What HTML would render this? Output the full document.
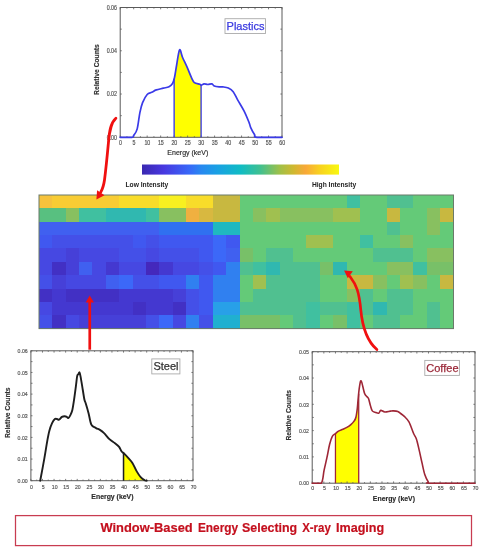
<!DOCTYPE html><html><head><meta charset="utf-8"><title>Window-Based Energy Selecting X-ray Imaging</title><style>html,body{margin:0;padding:0;background:#fff;overflow:hidden}svg{display:block}</style></head><body><svg width="481" height="550" viewBox="0 0 481 550">
<defs><linearGradient id="cb" x1="0" x2="1" y1="0" y2="0"><stop offset="0" stop-color="#3a28b0"/><stop offset="0.11" stop-color="#4838e0"/><stop offset="0.24" stop-color="#3868f8"/><stop offset="0.3" stop-color="#2888f0"/><stop offset="0.38" stop-color="#1aa0e4"/><stop offset="0.5" stop-color="#10bcc4"/><stop offset="0.6" stop-color="#40c090"/><stop offset="0.7" stop-color="#a0c048"/><stop offset="0.77" stop-color="#d0b830"/><stop offset="0.83" stop-color="#f8a838"/><stop offset="0.9" stop-color="#f8d020"/><stop offset="1" stop-color="#f8f810"/></linearGradient></defs>
<rect width="481" height="550" fill="#fff"/>
<polygon points="174.13,137.3 174.13,78.8 174.4,78.02 176.56,65.48 179.53,49.9 182.49,57.26 187.08,67.21 191.66,78.02 194.36,82.57 199.75,84.3 201.1,85.02 201.1,137.3" fill="#ffff00"/>
<rect x="120.2" y="7.5" width="161.8" height="129.8" fill="none" stroke="#5a5a5a" stroke-width="1"/>
<path d="M120.2 137.3v-1.8M120.2 7.5v1.8M126.94 137.3v-1.1M126.94 7.5v1.1M133.68 137.3v-1.8M133.68 7.5v1.8M140.43 137.3v-1.1M140.43 7.5v1.1M147.17 137.3v-1.8M147.17 7.5v1.8M153.91 137.3v-1.1M153.91 7.5v1.1M160.65 137.3v-1.8M160.65 7.5v1.8M167.39 137.3v-1.1M167.39 7.5v1.1M174.13 137.3v-1.8M174.13 7.5v1.8M180.88 137.3v-1.1M180.88 7.5v1.1M187.62 137.3v-1.8M187.62 7.5v1.8M194.36 137.3v-1.1M194.36 7.5v1.1M201.1 137.3v-1.8M201.1 7.5v1.8M207.84 137.3v-1.1M207.84 7.5v1.1M214.58 137.3v-1.8M214.58 7.5v1.8M221.32 137.3v-1.1M221.32 7.5v1.1M228.07 137.3v-1.8M228.07 7.5v1.8M234.81 137.3v-1.1M234.81 7.5v1.1M241.55 137.3v-1.8M241.55 7.5v1.8M248.29 137.3v-1.1M248.29 7.5v1.1M255.03 137.3v-1.8M255.03 7.5v1.8M261.77 137.3v-1.1M261.77 7.5v1.1M268.52 137.3v-1.8M268.52 7.5v1.8M275.26 137.3v-1.1M275.26 7.5v1.1M282 137.3v-1.8M282 7.5v1.8M120.2 137.3h1.6M282 137.3h-1.6M120.2 115.67h1.6M282 115.67h-1.6M120.2 94.03h1.6M282 94.03h-1.6M120.2 72.4h1.6M282 72.4h-1.6M120.2 50.77h1.6M282 50.77h-1.6M120.2 29.13h1.6M282 29.13h-1.6M120.2 7.5h1.6M282 7.5h-1.6" stroke="#5a5a5a" stroke-width="0.8" fill="none"/>
<g font-family="Liberation Sans, sans-serif" font-size="6.4" fill="#555" stroke="#555" stroke-width="0.18">
<text x="120.4" y="145.3" text-anchor="middle" textLength="2.95" lengthAdjust="spacingAndGlyphs">0</text>
<text x="133.88" y="145.3" text-anchor="middle" textLength="2.95" lengthAdjust="spacingAndGlyphs">5</text>
<text x="147.37" y="145.3" text-anchor="middle" textLength="5.91" lengthAdjust="spacingAndGlyphs">10</text>
<text x="160.85" y="145.3" text-anchor="middle" textLength="5.91" lengthAdjust="spacingAndGlyphs">15</text>
<text x="174.33" y="145.3" text-anchor="middle" textLength="5.91" lengthAdjust="spacingAndGlyphs">20</text>
<text x="187.82" y="145.3" text-anchor="middle" textLength="5.91" lengthAdjust="spacingAndGlyphs">25</text>
<text x="201.3" y="145.3" text-anchor="middle" textLength="5.91" lengthAdjust="spacingAndGlyphs">30</text>
<text x="214.78" y="145.3" text-anchor="middle" textLength="5.91" lengthAdjust="spacingAndGlyphs">35</text>
<text x="228.27" y="145.3" text-anchor="middle" textLength="5.91" lengthAdjust="spacingAndGlyphs">40</text>
<text x="241.75" y="145.3" text-anchor="middle" textLength="5.91" lengthAdjust="spacingAndGlyphs">45</text>
<text x="255.23" y="145.3" text-anchor="middle" textLength="5.91" lengthAdjust="spacingAndGlyphs">50</text>
<text x="268.72" y="145.3" text-anchor="middle" textLength="5.91" lengthAdjust="spacingAndGlyphs">55</text>
<text x="282.2" y="145.3" text-anchor="middle" textLength="5.91" lengthAdjust="spacingAndGlyphs">60</text>
<text x="117" y="139.6" text-anchor="end" textLength="10.34" lengthAdjust="spacingAndGlyphs">0.00</text>
<text x="117" y="96.33" text-anchor="end" textLength="10.34" lengthAdjust="spacingAndGlyphs">0.02</text>
<text x="117" y="53.07" text-anchor="end" textLength="10.34" lengthAdjust="spacingAndGlyphs">0.04</text>
<text x="117" y="9.8" text-anchor="end" textLength="10.34" lengthAdjust="spacingAndGlyphs">0.06</text>
</g>
<path d="M120.2 137.3C122.13 137.3 129.55 137.3 131.8 137.3C134.04 137.01 132.78 136.98 133.68 135.57C134.58 134.16 136.16 132.68 137.19 128.86C138.22 125.04 138.99 117 139.89 112.64C140.78 108.28 141.37 105.72 142.58 102.69C143.8 99.66 145.64 96.2 147.17 94.47C148.69 92.74 150.22 93.06 151.75 92.3C153.28 91.55 154.4 90.61 156.34 89.92C158.27 89.24 161.23 88.73 163.35 88.19C165.46 87.65 167.48 87.47 169.01 86.68C170.54 85.88 171.62 84.88 172.52 83.43C173.41 81.99 173.73 81.02 174.4 78.02C175.08 75.03 175.71 70.16 176.56 65.48C177.41 60.79 178.54 51.27 179.53 49.9C180.52 48.53 181.23 54.37 182.49 57.26C183.75 60.14 185.55 63.75 187.08 67.21C188.61 70.67 190.45 75.46 191.66 78.02C192.88 80.58 193.01 81.52 194.36 82.57C195.71 83.61 198.58 83.87 199.75 84.3C200.92 84.73 200.65 85.24 201.37 85.16C202.09 85.09 202.99 83.97 204.07 83.87C205.15 83.76 206.54 84.51 207.84 84.51C209.15 84.51 210.81 83.61 211.89 83.87C212.97 84.12 213.1 85.52 214.31 86.03C215.53 86.53 217.73 86.75 219.17 86.89C220.61 87.04 221.41 86.71 222.94 86.89C224.47 87.07 226.63 87.18 228.34 87.98C230.04 88.77 231.62 89.63 233.19 91.65C234.76 93.67 235.93 96.81 237.77 100.09C239.62 103.37 242.36 107.59 244.25 111.34C246.13 115.09 248.02 119.89 249.1 122.59C250.18 125.29 249.82 125.58 250.72 127.57C251.62 129.55 253.42 132.87 254.49 134.49C255.57 136.11 252.61 136.83 257.19 137.3C261.78 137.3 277.87 137.3 282 137.3" fill="none" stroke="#3a3ae8" stroke-width="1.7" stroke-linejoin="round" stroke-linecap="round"/>
<line x1="174.13" y1="137.3" x2="174.13" y2="78.8" stroke="#3a3ae8" stroke-width="1.36"/>
<line x1="201.1" y1="137.3" x2="201.1" y2="85.02" stroke="#3a3ae8" stroke-width="1.36"/>
<text x="99.2" y="69.6" text-anchor="middle" font-family="Liberation Sans, sans-serif" font-size="6.7" font-weight="bold" fill="#333" stroke="#333" stroke-width="0.15" transform="rotate(-90 99.2 69.6)">Relative Counts</text>
<text x="187.8" y="155" text-anchor="middle" font-family="Liberation Sans, sans-serif" font-size="7.0"  fill="#2a2a2a" stroke="#2a2a2a" stroke-width="0.15">Energy (keV)</text>
<rect x="225" y="18.7" width="40.5" height="14.8" fill="#fff" stroke="#aaa" stroke-width="0.9"/>
<text x="226.6" y="30" font-family="Liberation Sans, sans-serif" font-size="11" fill="#3a3ae0" stroke="#3a3ae0" stroke-width="0.25">Plastics</text>
<polygon points="123.53,480.7 123.53,453.05 124.22,453.64 128.62,458.4 132.56,463.16 136.73,471.39 140.9,477.45 144.83,480.27 146.69,480.7 146.69,480.7 146.69,480.7" fill="#ffff00"/>
<rect x="30.9" y="350.8" width="162.1" height="129.9" fill="none" stroke="#5a5a5a" stroke-width="1"/>
<path d="M30.9 480.7v-1.8M30.9 350.8v1.8M36.69 480.7v-1.1M36.69 350.8v1.1M42.48 480.7v-1.8M42.48 350.8v1.8M48.27 480.7v-1.1M48.27 350.8v1.1M54.06 480.7v-1.8M54.06 350.8v1.8M59.85 480.7v-1.1M59.85 350.8v1.1M65.64 480.7v-1.8M65.64 350.8v1.8M71.42 480.7v-1.1M71.42 350.8v1.1M77.21 480.7v-1.8M77.21 350.8v1.8M83 480.7v-1.1M83 350.8v1.1M88.79 480.7v-1.8M88.79 350.8v1.8M94.58 480.7v-1.1M94.58 350.8v1.1M100.37 480.7v-1.8M100.37 350.8v1.8M106.16 480.7v-1.1M106.16 350.8v1.1M111.95 480.7v-1.8M111.95 350.8v1.8M117.74 480.7v-1.1M117.74 350.8v1.1M123.53 480.7v-1.8M123.53 350.8v1.8M129.32 480.7v-1.1M129.32 350.8v1.1M135.11 480.7v-1.8M135.11 350.8v1.8M140.9 480.7v-1.1M140.9 350.8v1.1M146.69 480.7v-1.8M146.69 350.8v1.8M152.47 480.7v-1.1M152.47 350.8v1.1M158.26 480.7v-1.8M158.26 350.8v1.8M164.05 480.7v-1.1M164.05 350.8v1.1M169.84 480.7v-1.8M169.84 350.8v1.8M175.63 480.7v-1.1M175.63 350.8v1.1M181.42 480.7v-1.8M181.42 350.8v1.8M187.21 480.7v-1.1M187.21 350.8v1.1M193 480.7v-1.8M193 350.8v1.8M30.9 480.7h1.6M193 480.7h-1.6M30.9 469.88h1.6M193 469.88h-1.6M30.9 459.05h1.6M193 459.05h-1.6M30.9 448.23h1.6M193 448.23h-1.6M30.9 437.4h1.6M193 437.4h-1.6M30.9 426.57h1.6M193 426.57h-1.6M30.9 415.75h1.6M193 415.75h-1.6M30.9 404.92h1.6M193 404.92h-1.6M30.9 394.1h1.6M193 394.1h-1.6M30.9 383.27h1.6M193 383.27h-1.6M30.9 372.45h1.6M193 372.45h-1.6M30.9 361.62h1.6M193 361.62h-1.6M30.9 350.8h1.6M193 350.8h-1.6" stroke="#5a5a5a" stroke-width="0.8" fill="none"/>
<g font-family="Liberation Sans, sans-serif" font-size="6.1" fill="#555" stroke="#555" stroke-width="0.18">
<text x="31.5" y="488.7" text-anchor="middle" textLength="2.88" lengthAdjust="spacingAndGlyphs">0</text>
<text x="43.08" y="488.7" text-anchor="middle" textLength="2.88" lengthAdjust="spacingAndGlyphs">5</text>
<text x="54.66" y="488.7" text-anchor="middle" textLength="5.77" lengthAdjust="spacingAndGlyphs">10</text>
<text x="66.24" y="488.7" text-anchor="middle" textLength="5.77" lengthAdjust="spacingAndGlyphs">15</text>
<text x="77.81" y="488.7" text-anchor="middle" textLength="5.77" lengthAdjust="spacingAndGlyphs">20</text>
<text x="89.39" y="488.7" text-anchor="middle" textLength="5.77" lengthAdjust="spacingAndGlyphs">25</text>
<text x="100.97" y="488.7" text-anchor="middle" textLength="5.77" lengthAdjust="spacingAndGlyphs">30</text>
<text x="112.55" y="488.7" text-anchor="middle" textLength="5.77" lengthAdjust="spacingAndGlyphs">35</text>
<text x="124.13" y="488.7" text-anchor="middle" textLength="5.77" lengthAdjust="spacingAndGlyphs">40</text>
<text x="135.71" y="488.7" text-anchor="middle" textLength="5.77" lengthAdjust="spacingAndGlyphs">45</text>
<text x="147.29" y="488.7" text-anchor="middle" textLength="5.77" lengthAdjust="spacingAndGlyphs">50</text>
<text x="158.86" y="488.7" text-anchor="middle" textLength="5.77" lengthAdjust="spacingAndGlyphs">55</text>
<text x="170.44" y="488.7" text-anchor="middle" textLength="5.77" lengthAdjust="spacingAndGlyphs">60</text>
<text x="182.02" y="488.7" text-anchor="middle" textLength="5.77" lengthAdjust="spacingAndGlyphs">65</text>
<text x="193.6" y="488.7" text-anchor="middle" textLength="5.77" lengthAdjust="spacingAndGlyphs">70</text>
<text x="27.7" y="482.9" text-anchor="end" textLength="10.09" lengthAdjust="spacingAndGlyphs">0.00</text>
<text x="27.7" y="461.25" text-anchor="end" textLength="10.09" lengthAdjust="spacingAndGlyphs">0.01</text>
<text x="27.7" y="439.6" text-anchor="end" textLength="10.09" lengthAdjust="spacingAndGlyphs">0.02</text>
<text x="27.7" y="417.95" text-anchor="end" textLength="10.09" lengthAdjust="spacingAndGlyphs">0.03</text>
<text x="27.7" y="396.3" text-anchor="end" textLength="10.09" lengthAdjust="spacingAndGlyphs">0.04</text>
<text x="27.7" y="374.65" text-anchor="end" textLength="10.09" lengthAdjust="spacingAndGlyphs">0.05</text>
<text x="27.7" y="353" text-anchor="end" textLength="10.09" lengthAdjust="spacingAndGlyphs">0.06</text>
</g>
<path d="M40.21 480.7C40.91 476.95 43.24 464.75 44.4 458.18C45.57 451.62 46.38 445.84 47.2 441.3C48.02 436.75 48.5 433.94 49.31 430.9C50.12 427.87 51.16 425.1 52.09 423.11C53.02 421.13 54.07 419.68 54.89 419C55.71 418.31 56.3 418.89 57 419C57.7 419.11 58.29 420.01 59.11 419.65C59.92 419.29 60.97 417.41 61.91 416.83C62.84 416.26 63.9 416.18 64.71 416.18C65.52 416.18 66.21 416.51 66.79 416.83C67.37 417.16 67.6 418.38 68.18 418.13C68.76 417.88 69.57 416.69 70.27 415.32C70.96 413.95 71.73 412.39 72.35 409.9C72.97 407.41 73.37 404.38 73.97 400.38C74.57 396.37 75.4 389.95 75.94 385.87C76.48 381.8 76.81 377.86 77.21 375.91C77.62 373.97 77.99 374.76 78.37 374.18C78.76 373.6 79.12 371.84 79.53 372.45C79.94 373.06 80.26 374.98 80.8 377.86C81.34 380.75 82.17 386.16 82.77 389.77C83.37 393.38 83.89 397.24 84.39 399.51C84.89 401.79 85.09 401.14 85.78 403.41C86.48 405.68 87.63 409.62 88.56 413.15C89.49 416.69 90.11 422.14 91.34 424.63C92.58 427.12 94.54 427.22 95.97 428.09C97.4 428.96 98.56 428.99 99.91 429.82C101.26 430.65 102.49 431.52 104.08 433.07C105.66 434.62 107.59 437.44 109.4 439.13C111.22 440.83 113.38 441.98 114.96 443.25C116.54 444.51 117.78 445.34 118.9 446.71C120.02 448.08 120.79 450.32 121.68 451.47C122.56 452.63 123.07 452.48 124.22 453.64C125.38 454.79 127.23 456.81 128.62 458.4C130.01 459.99 131.21 461 132.56 463.16C133.91 465.33 135.34 469.01 136.73 471.39C138.12 473.77 139.55 475.97 140.9 477.45C142.25 478.93 143.87 479.73 144.83 480.27C145.8 480.7 146.38 480.63 146.69 480.7" fill="none" stroke="#1e1e1e" stroke-width="1.9" stroke-linejoin="round" stroke-linecap="round"/>
<line x1="123.53" y1="480.7" x2="123.53" y2="453.05" stroke="#1e1e1e" stroke-width="1.52"/>
<line x1="146.69" y1="480.7" x2="146.69" y2="480.7" stroke="#1e1e1e" stroke-width="1.52"/>
<text x="10.3" y="412.8" text-anchor="middle" font-family="Liberation Sans, sans-serif" font-size="6.7" font-weight="bold" fill="#333" stroke="#333" stroke-width="0.15" transform="rotate(-90 10.3 412.8)">Relative Counts</text>
<text x="112.4" y="499.1" text-anchor="middle" font-family="Liberation Sans, sans-serif" font-size="6.9" font-weight="bold" fill="#2a2a2a" stroke="#2a2a2a" stroke-width="0.15">Energy (keV)</text>
<rect x="151.8" y="358.9" width="28.1" height="15" fill="#fff" stroke="#aaa" stroke-width="0.9"/>
<text x="153.4" y="369.8" font-family="Liberation Sans, sans-serif" font-size="11" fill="#333" stroke="#333" stroke-width="0.25">Steel</text>
<polygon points="335.46,483.2 335.46,433.57 338.48,431.13 342.9,429.28 347.32,427.18 350.57,424.81 354.06,421.13 355.92,417.19 357.32,408.25 358.25,397.73 358.71,393.63 358.71,483.2" fill="#ffff00"/>
<rect x="312.2" y="351.7" width="162.8" height="131.5" fill="none" stroke="#5a5a5a" stroke-width="1"/>
<path d="M312.2 483.2v-1.8M312.2 351.7v1.8M318.01 483.2v-1.1M318.01 351.7v1.1M323.83 483.2v-1.8M323.83 351.7v1.8M329.64 483.2v-1.1M329.64 351.7v1.1M335.46 483.2v-1.8M335.46 351.7v1.8M341.27 483.2v-1.1M341.27 351.7v1.1M347.09 483.2v-1.8M347.09 351.7v1.8M352.9 483.2v-1.1M352.9 351.7v1.1M358.71 483.2v-1.8M358.71 351.7v1.8M364.53 483.2v-1.1M364.53 351.7v1.1M370.34 483.2v-1.8M370.34 351.7v1.8M376.16 483.2v-1.1M376.16 351.7v1.1M381.97 483.2v-1.8M381.97 351.7v1.8M387.79 483.2v-1.1M387.79 351.7v1.1M393.6 483.2v-1.8M393.6 351.7v1.8M399.41 483.2v-1.1M399.41 351.7v1.1M405.23 483.2v-1.8M405.23 351.7v1.8M411.04 483.2v-1.1M411.04 351.7v1.1M416.86 483.2v-1.8M416.86 351.7v1.8M422.67 483.2v-1.1M422.67 351.7v1.1M428.49 483.2v-1.8M428.49 351.7v1.8M434.3 483.2v-1.1M434.3 351.7v1.1M440.11 483.2v-1.8M440.11 351.7v1.8M445.93 483.2v-1.1M445.93 351.7v1.1M451.74 483.2v-1.8M451.74 351.7v1.8M457.56 483.2v-1.1M457.56 351.7v1.1M463.37 483.2v-1.8M463.37 351.7v1.8M469.19 483.2v-1.1M469.19 351.7v1.1M475 483.2v-1.8M475 351.7v1.8M312.2 483.2h1.6M475 483.2h-1.6M312.2 470.05h1.6M475 470.05h-1.6M312.2 456.9h1.6M475 456.9h-1.6M312.2 443.75h1.6M475 443.75h-1.6M312.2 430.6h1.6M475 430.6h-1.6M312.2 417.45h1.6M475 417.45h-1.6M312.2 404.3h1.6M475 404.3h-1.6M312.2 391.15h1.6M475 391.15h-1.6M312.2 378h1.6M475 378h-1.6M312.2 364.85h1.6M475 364.85h-1.6M312.2 351.7h1.6M475 351.7h-1.6" stroke="#5a5a5a" stroke-width="0.8" fill="none"/>
<g font-family="Liberation Sans, sans-serif" font-size="6.1" fill="#555" stroke="#555" stroke-width="0.18">
<text x="312.8" y="490.3" text-anchor="middle" textLength="2.88" lengthAdjust="spacingAndGlyphs">0</text>
<text x="324.43" y="490.3" text-anchor="middle" textLength="2.88" lengthAdjust="spacingAndGlyphs">5</text>
<text x="336.06" y="490.3" text-anchor="middle" textLength="5.77" lengthAdjust="spacingAndGlyphs">10</text>
<text x="347.69" y="490.3" text-anchor="middle" textLength="5.77" lengthAdjust="spacingAndGlyphs">15</text>
<text x="359.31" y="490.3" text-anchor="middle" textLength="5.77" lengthAdjust="spacingAndGlyphs">20</text>
<text x="370.94" y="490.3" text-anchor="middle" textLength="5.77" lengthAdjust="spacingAndGlyphs">25</text>
<text x="382.57" y="490.3" text-anchor="middle" textLength="5.77" lengthAdjust="spacingAndGlyphs">30</text>
<text x="394.2" y="490.3" text-anchor="middle" textLength="5.77" lengthAdjust="spacingAndGlyphs">35</text>
<text x="405.83" y="490.3" text-anchor="middle" textLength="5.77" lengthAdjust="spacingAndGlyphs">40</text>
<text x="417.46" y="490.3" text-anchor="middle" textLength="5.77" lengthAdjust="spacingAndGlyphs">45</text>
<text x="429.09" y="490.3" text-anchor="middle" textLength="5.77" lengthAdjust="spacingAndGlyphs">50</text>
<text x="440.71" y="490.3" text-anchor="middle" textLength="5.77" lengthAdjust="spacingAndGlyphs">55</text>
<text x="452.34" y="490.3" text-anchor="middle" textLength="5.77" lengthAdjust="spacingAndGlyphs">60</text>
<text x="463.97" y="490.3" text-anchor="middle" textLength="5.77" lengthAdjust="spacingAndGlyphs">65</text>
<text x="475.6" y="490.3" text-anchor="middle" textLength="5.77" lengthAdjust="spacingAndGlyphs">70</text>
<text x="309" y="485.4" text-anchor="end" textLength="10.09" lengthAdjust="spacingAndGlyphs">0.00</text>
<text x="309" y="459.1" text-anchor="end" textLength="10.09" lengthAdjust="spacingAndGlyphs">0.01</text>
<text x="309" y="432.8" text-anchor="end" textLength="10.09" lengthAdjust="spacingAndGlyphs">0.02</text>
<text x="309" y="406.5" text-anchor="end" textLength="10.09" lengthAdjust="spacingAndGlyphs">0.03</text>
<text x="309" y="380.2" text-anchor="end" textLength="10.09" lengthAdjust="spacingAndGlyphs">0.04</text>
<text x="309" y="353.9" text-anchor="end" textLength="10.09" lengthAdjust="spacingAndGlyphs">0.05</text>
</g>
<path d="M312.2 483.2C313.71 483.2 319.29 483.2 321.27 483.2C323.25 481.05 323.11 474.61 324.06 470.31C325.01 466.02 326.04 461.77 326.97 457.43C327.9 453.09 328.75 447.78 329.64 444.28C330.53 440.77 331.39 438.14 332.32 436.39C333.25 434.63 334.2 434.63 335.22 433.76C336.25 432.88 337.2 431.87 338.48 431.13C339.76 430.38 341.43 429.94 342.9 429.28C344.37 428.63 346.04 427.93 347.32 427.18C348.6 426.44 349.45 425.82 350.57 424.81C351.7 423.81 353.17 422.4 354.06 421.13C354.95 419.86 355.38 419.33 355.92 417.19C356.47 415.04 356.93 411.49 357.32 408.25C357.71 405 357.88 401.32 358.25 397.73C358.61 394.13 359.01 389.48 359.51 386.68C360 383.87 360.37 379.8 361.2 380.89C362.04 381.99 363.57 390.67 364.51 393.25C365.44 395.84 366.13 395.49 366.81 396.41C367.49 397.33 367.98 397.2 368.6 398.78C369.21 400.36 369.89 403.86 370.51 405.88C371.12 407.89 371.55 409.82 372.3 410.88C373.04 411.93 373.92 411.8 374.99 412.19C376.06 412.58 377.75 413.55 378.72 413.24C379.68 412.94 379.8 410.57 380.81 410.35C381.82 410.13 383.17 411.8 384.76 411.93C386.35 412.06 388.95 411.31 390.34 411.14C391.74 410.96 391.89 410.83 393.13 410.88C394.38 410.92 396.55 410.96 397.79 411.4C399.03 411.84 399.49 412.67 400.58 413.5C401.66 414.34 402.9 415 404.3 416.4C405.69 417.8 407.4 419.07 408.95 421.92C410.5 424.77 412.36 430.64 413.6 433.49C414.84 436.34 415.46 436.25 416.39 439.02C417.32 441.78 418.25 446.12 419.18 450.06C420.11 454.01 421.04 458.61 421.97 462.69C422.9 466.76 423.72 471.32 424.76 474.52C425.81 477.72 427.32 480.44 428.25 481.88C429.18 483.2 422.56 482.98 430.35 483.2C438.14 483.2 467.56 483.2 475 483.2" fill="none" stroke="#9e2636" stroke-width="1.6" stroke-linejoin="round" stroke-linecap="round"/>
<line x1="335.46" y1="483.2" x2="335.46" y2="433.57" stroke="#9e2636" stroke-width="1.2800000000000002"/>
<line x1="358.71" y1="483.2" x2="358.71" y2="393.63" stroke="#9e2636" stroke-width="1.2800000000000002"/>
<text x="290.6" y="415.3" text-anchor="middle" font-family="Liberation Sans, sans-serif" font-size="6.7" font-weight="bold" fill="#333" stroke="#333" stroke-width="0.15" transform="rotate(-90 290.6 415.3)">Relative Counts</text>
<text x="393.9" y="501.4" text-anchor="middle" font-family="Liberation Sans, sans-serif" font-size="6.9" font-weight="bold" fill="#2a2a2a" stroke="#2a2a2a" stroke-width="0.15">Energy (keV)</text>
<rect x="424.8" y="360.4" width="34.6" height="15" fill="#fff" stroke="#aaa" stroke-width="0.9"/>
<text x="426.3" y="371.7" font-family="Liberation Sans, sans-serif" font-size="11" fill="#9a2838" stroke="#9a2838" stroke-width="0.25">Coffee</text>
<rect x="142" y="164.5" width="197" height="10.1" fill="url(#cb)"/>
<text x="125.5" y="187.2" font-family="Liberation Sans, sans-serif" font-size="6.7" font-weight="bold" fill="#222">Low Intensity</text>
<text x="311.9" y="187.3" font-family="Liberation Sans, sans-serif" font-size="6.7" font-weight="bold" fill="#222">High Intensity</text>
<g shape-rendering="crispEdges">
<rect x="39" y="195" width="13.87" height="13.86" fill="#f6c23c"/>
<rect x="52.37" y="195" width="13.87" height="13.86" fill="#f8cc34"/>
<rect x="65.74" y="195" width="13.87" height="13.86" fill="#f8cc34"/>
<rect x="79.11" y="195" width="13.87" height="13.86" fill="#f8cc34"/>
<rect x="92.48" y="195" width="13.87" height="13.86" fill="#f8cc34"/>
<rect x="105.85" y="195" width="13.87" height="13.86" fill="#f8cc34"/>
<rect x="119.23" y="195" width="13.87" height="13.86" fill="#f8dc2a"/>
<rect x="132.6" y="195" width="13.87" height="13.86" fill="#f8dc2a"/>
<rect x="145.97" y="195" width="13.87" height="13.86" fill="#f8dc2a"/>
<rect x="159.34" y="195" width="13.87" height="13.86" fill="#f8f020"/>
<rect x="172.71" y="195" width="13.87" height="13.86" fill="#f8f020"/>
<rect x="186.08" y="195" width="13.87" height="13.86" fill="#f8dc2a"/>
<rect x="199.45" y="195" width="13.87" height="13.86" fill="#f8dc2a"/>
<rect x="212.82" y="195" width="13.87" height="13.86" fill="#c8b840"/>
<rect x="226.19" y="195" width="13.87" height="13.86" fill="#c8b840"/>
<rect x="239.56" y="195" width="13.87" height="13.86" fill="#64ca78"/>
<rect x="252.94" y="195" width="13.87" height="13.86" fill="#64ca78"/>
<rect x="266.31" y="195" width="13.87" height="13.86" fill="#64ca78"/>
<rect x="279.68" y="195" width="13.87" height="13.86" fill="#64ca78"/>
<rect x="293.05" y="195" width="13.87" height="13.86" fill="#64ca78"/>
<rect x="306.42" y="195" width="13.87" height="13.86" fill="#64ca78"/>
<rect x="319.79" y="195" width="13.87" height="13.86" fill="#64ca78"/>
<rect x="333.16" y="195" width="13.87" height="13.86" fill="#64ca78"/>
<rect x="346.53" y="195" width="13.87" height="13.86" fill="#40c0a0"/>
<rect x="359.9" y="195" width="13.87" height="13.86" fill="#64ca78"/>
<rect x="373.27" y="195" width="13.87" height="13.86" fill="#64ca78"/>
<rect x="386.65" y="195" width="13.87" height="13.86" fill="#50c090"/>
<rect x="400.02" y="195" width="13.87" height="13.86" fill="#50c090"/>
<rect x="413.39" y="195" width="13.87" height="13.86" fill="#64ca78"/>
<rect x="426.76" y="195" width="13.87" height="13.86" fill="#64ca78"/>
<rect x="440.13" y="195" width="13.87" height="13.86" fill="#64ca78"/>
<rect x="39" y="208.36" width="13.87" height="13.86" fill="#58c080"/>
<rect x="52.37" y="208.36" width="13.87" height="13.86" fill="#58c080"/>
<rect x="65.74" y="208.36" width="13.87" height="13.86" fill="#88c060"/>
<rect x="79.11" y="208.36" width="13.87" height="13.86" fill="#40c0a0"/>
<rect x="92.48" y="208.36" width="13.87" height="13.86" fill="#40c0a0"/>
<rect x="105.85" y="208.36" width="13.87" height="13.86" fill="#30b8b0"/>
<rect x="119.23" y="208.36" width="13.87" height="13.86" fill="#30b8b0"/>
<rect x="132.6" y="208.36" width="13.87" height="13.86" fill="#30b8b0"/>
<rect x="145.97" y="208.36" width="13.87" height="13.86" fill="#40c0a0"/>
<rect x="159.34" y="208.36" width="13.87" height="13.86" fill="#88c060"/>
<rect x="172.71" y="208.36" width="13.87" height="13.86" fill="#88c060"/>
<rect x="186.08" y="208.36" width="13.87" height="13.86" fill="#f0b040"/>
<rect x="199.45" y="208.36" width="13.87" height="13.86" fill="#d8b840"/>
<rect x="212.82" y="208.36" width="13.87" height="13.86" fill="#c8b840"/>
<rect x="226.19" y="208.36" width="13.87" height="13.86" fill="#c8b840"/>
<rect x="239.56" y="208.36" width="13.87" height="13.86" fill="#64ca78"/>
<rect x="252.94" y="208.36" width="13.87" height="13.86" fill="#88c060"/>
<rect x="266.31" y="208.36" width="13.87" height="13.86" fill="#a0c050"/>
<rect x="279.68" y="208.36" width="13.87" height="13.86" fill="#88c060"/>
<rect x="293.05" y="208.36" width="13.87" height="13.86" fill="#88c060"/>
<rect x="306.42" y="208.36" width="13.87" height="13.86" fill="#88c060"/>
<rect x="319.79" y="208.36" width="13.87" height="13.86" fill="#88c060"/>
<rect x="333.16" y="208.36" width="13.87" height="13.86" fill="#a0c050"/>
<rect x="346.53" y="208.36" width="13.87" height="13.86" fill="#a0c050"/>
<rect x="359.9" y="208.36" width="13.87" height="13.86" fill="#64ca78"/>
<rect x="373.27" y="208.36" width="13.87" height="13.86" fill="#64ca78"/>
<rect x="386.65" y="208.36" width="13.87" height="13.86" fill="#c8b840"/>
<rect x="400.02" y="208.36" width="13.87" height="13.86" fill="#64ca78"/>
<rect x="413.39" y="208.36" width="13.87" height="13.86" fill="#64ca78"/>
<rect x="426.76" y="208.36" width="13.87" height="13.86" fill="#88c060"/>
<rect x="440.13" y="208.36" width="13.87" height="13.86" fill="#c8b840"/>
<rect x="39" y="221.72" width="13.87" height="13.86" fill="#4060f0"/>
<rect x="52.37" y="221.72" width="13.87" height="13.86" fill="#4060f0"/>
<rect x="65.74" y="221.72" width="13.87" height="13.86" fill="#4060f0"/>
<rect x="79.11" y="221.72" width="13.87" height="13.86" fill="#4060f0"/>
<rect x="92.48" y="221.72" width="13.87" height="13.86" fill="#4060f0"/>
<rect x="105.85" y="221.72" width="13.87" height="13.86" fill="#4060f0"/>
<rect x="119.23" y="221.72" width="13.87" height="13.86" fill="#4060f0"/>
<rect x="132.6" y="221.72" width="13.87" height="13.86" fill="#4060f0"/>
<rect x="145.97" y="221.72" width="13.87" height="13.86" fill="#4060f0"/>
<rect x="159.34" y="221.72" width="13.87" height="13.86" fill="#3070f0"/>
<rect x="172.71" y="221.72" width="13.87" height="13.86" fill="#3070f0"/>
<rect x="186.08" y="221.72" width="13.87" height="13.86" fill="#3070f0"/>
<rect x="199.45" y="221.72" width="13.87" height="13.86" fill="#3070f0"/>
<rect x="212.82" y="221.72" width="13.87" height="13.86" fill="#20b8c0"/>
<rect x="226.19" y="221.72" width="13.87" height="13.86" fill="#20b8c0"/>
<rect x="239.56" y="221.72" width="13.87" height="13.86" fill="#64ca78"/>
<rect x="252.94" y="221.72" width="13.87" height="13.86" fill="#64ca78"/>
<rect x="266.31" y="221.72" width="13.87" height="13.86" fill="#64ca78"/>
<rect x="279.68" y="221.72" width="13.87" height="13.86" fill="#64ca78"/>
<rect x="293.05" y="221.72" width="13.87" height="13.86" fill="#64ca78"/>
<rect x="306.42" y="221.72" width="13.87" height="13.86" fill="#64ca78"/>
<rect x="319.79" y="221.72" width="13.87" height="13.86" fill="#64ca78"/>
<rect x="333.16" y="221.72" width="13.87" height="13.86" fill="#64ca78"/>
<rect x="346.53" y="221.72" width="13.87" height="13.86" fill="#64ca78"/>
<rect x="359.9" y="221.72" width="13.87" height="13.86" fill="#64ca78"/>
<rect x="373.27" y="221.72" width="13.87" height="13.86" fill="#64ca78"/>
<rect x="386.65" y="221.72" width="13.87" height="13.86" fill="#50c090"/>
<rect x="400.02" y="221.72" width="13.87" height="13.86" fill="#64ca78"/>
<rect x="413.39" y="221.72" width="13.87" height="13.86" fill="#64ca78"/>
<rect x="426.76" y="221.72" width="13.87" height="13.86" fill="#88c060"/>
<rect x="440.13" y="221.72" width="13.87" height="13.86" fill="#64ca78"/>
<rect x="39" y="235.08" width="13.87" height="13.86" fill="#4058f0"/>
<rect x="52.37" y="235.08" width="13.87" height="13.86" fill="#4450e8"/>
<rect x="65.74" y="235.08" width="13.87" height="13.86" fill="#4450e8"/>
<rect x="79.11" y="235.08" width="13.87" height="13.86" fill="#4450e8"/>
<rect x="92.48" y="235.08" width="13.87" height="13.86" fill="#4450e8"/>
<rect x="105.85" y="235.08" width="13.87" height="13.86" fill="#4450e8"/>
<rect x="119.23" y="235.08" width="13.87" height="13.86" fill="#4450e8"/>
<rect x="132.6" y="235.08" width="13.87" height="13.86" fill="#4058f0"/>
<rect x="145.97" y="235.08" width="13.87" height="13.86" fill="#4450e8"/>
<rect x="159.34" y="235.08" width="13.87" height="13.86" fill="#4058f0"/>
<rect x="172.71" y="235.08" width="13.87" height="13.86" fill="#4058f0"/>
<rect x="186.08" y="235.08" width="13.87" height="13.86" fill="#4058f0"/>
<rect x="199.45" y="235.08" width="13.87" height="13.86" fill="#4058f0"/>
<rect x="212.82" y="235.08" width="13.87" height="13.86" fill="#3c68f8"/>
<rect x="226.19" y="235.08" width="13.87" height="13.86" fill="#4058f0"/>
<rect x="239.56" y="235.08" width="13.87" height="13.86" fill="#64ca78"/>
<rect x="252.94" y="235.08" width="13.87" height="13.86" fill="#64ca78"/>
<rect x="266.31" y="235.08" width="13.87" height="13.86" fill="#64ca78"/>
<rect x="279.68" y="235.08" width="13.87" height="13.86" fill="#64ca78"/>
<rect x="293.05" y="235.08" width="13.87" height="13.86" fill="#64ca78"/>
<rect x="306.42" y="235.08" width="13.87" height="13.86" fill="#a0c050"/>
<rect x="319.79" y="235.08" width="13.87" height="13.86" fill="#a0c050"/>
<rect x="333.16" y="235.08" width="13.87" height="13.86" fill="#64ca78"/>
<rect x="346.53" y="235.08" width="13.87" height="13.86" fill="#64ca78"/>
<rect x="359.9" y="235.08" width="13.87" height="13.86" fill="#40c0a0"/>
<rect x="373.27" y="235.08" width="13.87" height="13.86" fill="#64ca78"/>
<rect x="386.65" y="235.08" width="13.87" height="13.86" fill="#64ca78"/>
<rect x="400.02" y="235.08" width="13.87" height="13.86" fill="#88c060"/>
<rect x="413.39" y="235.08" width="13.87" height="13.86" fill="#64ca78"/>
<rect x="426.76" y="235.08" width="13.87" height="13.86" fill="#64ca78"/>
<rect x="440.13" y="235.08" width="13.87" height="13.86" fill="#64ca78"/>
<rect x="39" y="248.44" width="13.87" height="13.86" fill="#4648e2"/>
<rect x="52.37" y="248.44" width="13.87" height="13.86" fill="#4648e2"/>
<rect x="65.74" y="248.44" width="13.87" height="13.86" fill="#4640d8"/>
<rect x="79.11" y="248.44" width="13.87" height="13.86" fill="#4648e2"/>
<rect x="92.48" y="248.44" width="13.87" height="13.86" fill="#4648e2"/>
<rect x="105.85" y="248.44" width="13.87" height="13.86" fill="#4648e2"/>
<rect x="119.23" y="248.44" width="13.87" height="13.86" fill="#4450e8"/>
<rect x="132.6" y="248.44" width="13.87" height="13.86" fill="#4450e8"/>
<rect x="145.97" y="248.44" width="13.87" height="13.86" fill="#4648e2"/>
<rect x="159.34" y="248.44" width="13.87" height="13.86" fill="#4450e8"/>
<rect x="172.71" y="248.44" width="13.87" height="13.86" fill="#4450e8"/>
<rect x="186.08" y="248.44" width="13.87" height="13.86" fill="#4450e8"/>
<rect x="199.45" y="248.44" width="13.87" height="13.86" fill="#4058f0"/>
<rect x="212.82" y="248.44" width="13.87" height="13.86" fill="#3c68f8"/>
<rect x="226.19" y="248.44" width="13.87" height="13.86" fill="#4060f0"/>
<rect x="239.56" y="248.44" width="13.87" height="13.86" fill="#78c068"/>
<rect x="252.94" y="248.44" width="13.87" height="13.86" fill="#64ca78"/>
<rect x="266.31" y="248.44" width="13.87" height="13.86" fill="#50c090"/>
<rect x="279.68" y="248.44" width="13.87" height="13.86" fill="#50c090"/>
<rect x="293.05" y="248.44" width="13.87" height="13.86" fill="#64ca78"/>
<rect x="306.42" y="248.44" width="13.87" height="13.86" fill="#64ca78"/>
<rect x="319.79" y="248.44" width="13.87" height="13.86" fill="#64ca78"/>
<rect x="333.16" y="248.44" width="13.87" height="13.86" fill="#64ca78"/>
<rect x="346.53" y="248.44" width="13.87" height="13.86" fill="#64ca78"/>
<rect x="359.9" y="248.44" width="13.87" height="13.86" fill="#64ca78"/>
<rect x="373.27" y="248.44" width="13.87" height="13.86" fill="#50c090"/>
<rect x="386.65" y="248.44" width="13.87" height="13.86" fill="#50c090"/>
<rect x="400.02" y="248.44" width="13.87" height="13.86" fill="#50c090"/>
<rect x="413.39" y="248.44" width="13.87" height="13.86" fill="#64ca78"/>
<rect x="426.76" y="248.44" width="13.87" height="13.86" fill="#88c060"/>
<rect x="440.13" y="248.44" width="13.87" height="13.86" fill="#88c060"/>
<rect x="39" y="261.8" width="13.87" height="13.86" fill="#4648e2"/>
<rect x="52.37" y="261.8" width="13.87" height="13.86" fill="#4230c4"/>
<rect x="65.74" y="261.8" width="13.87" height="13.86" fill="#4640d8"/>
<rect x="79.11" y="261.8" width="13.87" height="13.86" fill="#4060f0"/>
<rect x="92.48" y="261.8" width="13.87" height="13.86" fill="#4648e2"/>
<rect x="105.85" y="261.8" width="13.87" height="13.86" fill="#4438d0"/>
<rect x="119.23" y="261.8" width="13.87" height="13.86" fill="#4648e2"/>
<rect x="132.6" y="261.8" width="13.87" height="13.86" fill="#4648e2"/>
<rect x="145.97" y="261.8" width="13.87" height="13.86" fill="#4428bc"/>
<rect x="159.34" y="261.8" width="13.87" height="13.86" fill="#4438d0"/>
<rect x="172.71" y="261.8" width="13.87" height="13.86" fill="#4648e2"/>
<rect x="186.08" y="261.8" width="13.87" height="13.86" fill="#4648e2"/>
<rect x="199.45" y="261.8" width="13.87" height="13.86" fill="#4450e8"/>
<rect x="212.82" y="261.8" width="13.87" height="13.86" fill="#4058f0"/>
<rect x="226.19" y="261.8" width="13.87" height="13.86" fill="#3080f0"/>
<rect x="239.56" y="261.8" width="13.87" height="13.86" fill="#50c090"/>
<rect x="252.94" y="261.8" width="13.87" height="13.86" fill="#40c0a0"/>
<rect x="266.31" y="261.8" width="13.87" height="13.86" fill="#30b8b0"/>
<rect x="279.68" y="261.8" width="13.87" height="13.86" fill="#50c090"/>
<rect x="293.05" y="261.8" width="13.87" height="13.86" fill="#50c090"/>
<rect x="306.42" y="261.8" width="13.87" height="13.86" fill="#50c090"/>
<rect x="319.79" y="261.8" width="13.87" height="13.86" fill="#78c068"/>
<rect x="333.16" y="261.8" width="13.87" height="13.86" fill="#30b8b0"/>
<rect x="346.53" y="261.8" width="13.87" height="13.86" fill="#64ca78"/>
<rect x="359.9" y="261.8" width="13.87" height="13.86" fill="#64ca78"/>
<rect x="373.27" y="261.8" width="13.87" height="13.86" fill="#64ca78"/>
<rect x="386.65" y="261.8" width="13.87" height="13.86" fill="#88c060"/>
<rect x="400.02" y="261.8" width="13.87" height="13.86" fill="#88c060"/>
<rect x="413.39" y="261.8" width="13.87" height="13.86" fill="#40c0a0"/>
<rect x="426.76" y="261.8" width="13.87" height="13.86" fill="#78c068"/>
<rect x="440.13" y="261.8" width="13.87" height="13.86" fill="#78c068"/>
<rect x="39" y="275.16" width="13.87" height="13.86" fill="#4450e8"/>
<rect x="52.37" y="275.16" width="13.87" height="13.86" fill="#4640d8"/>
<rect x="65.74" y="275.16" width="13.87" height="13.86" fill="#4648e2"/>
<rect x="79.11" y="275.16" width="13.87" height="13.86" fill="#4648e2"/>
<rect x="92.48" y="275.16" width="13.87" height="13.86" fill="#4648e2"/>
<rect x="105.85" y="275.16" width="13.87" height="13.86" fill="#4060f0"/>
<rect x="119.23" y="275.16" width="13.87" height="13.86" fill="#3c68f8"/>
<rect x="132.6" y="275.16" width="13.87" height="13.86" fill="#4450e8"/>
<rect x="145.97" y="275.16" width="13.87" height="13.86" fill="#4450e8"/>
<rect x="159.34" y="275.16" width="13.87" height="13.86" fill="#4058f0"/>
<rect x="172.71" y="275.16" width="13.87" height="13.86" fill="#4058f0"/>
<rect x="186.08" y="275.16" width="13.87" height="13.86" fill="#3080f0"/>
<rect x="199.45" y="275.16" width="13.87" height="13.86" fill="#4058f0"/>
<rect x="212.82" y="275.16" width="13.87" height="13.86" fill="#3080f0"/>
<rect x="226.19" y="275.16" width="13.87" height="13.86" fill="#3080f0"/>
<rect x="239.56" y="275.16" width="13.87" height="13.86" fill="#64ca78"/>
<rect x="252.94" y="275.16" width="13.87" height="13.86" fill="#a0c050"/>
<rect x="266.31" y="275.16" width="13.87" height="13.86" fill="#50c090"/>
<rect x="279.68" y="275.16" width="13.87" height="13.86" fill="#50c090"/>
<rect x="293.05" y="275.16" width="13.87" height="13.86" fill="#50c090"/>
<rect x="306.42" y="275.16" width="13.87" height="13.86" fill="#50c090"/>
<rect x="319.79" y="275.16" width="13.87" height="13.86" fill="#64ca78"/>
<rect x="333.16" y="275.16" width="13.87" height="13.86" fill="#64ca78"/>
<rect x="346.53" y="275.16" width="13.87" height="13.86" fill="#c8b840"/>
<rect x="359.9" y="275.16" width="13.87" height="13.86" fill="#c8b840"/>
<rect x="373.27" y="275.16" width="13.87" height="13.86" fill="#88c060"/>
<rect x="386.65" y="275.16" width="13.87" height="13.86" fill="#64ca78"/>
<rect x="400.02" y="275.16" width="13.87" height="13.86" fill="#a0c050"/>
<rect x="413.39" y="275.16" width="13.87" height="13.86" fill="#88c060"/>
<rect x="426.76" y="275.16" width="13.87" height="13.86" fill="#64ca78"/>
<rect x="440.13" y="275.16" width="13.87" height="13.86" fill="#c8b840"/>
<rect x="39" y="288.52" width="13.87" height="13.86" fill="#4230c4"/>
<rect x="52.37" y="288.52" width="13.87" height="13.86" fill="#4438d0"/>
<rect x="65.74" y="288.52" width="13.87" height="13.86" fill="#4230c4"/>
<rect x="79.11" y="288.52" width="13.87" height="13.86" fill="#4230c4"/>
<rect x="92.48" y="288.52" width="13.87" height="13.86" fill="#4230c4"/>
<rect x="105.85" y="288.52" width="13.87" height="13.86" fill="#4230c4"/>
<rect x="119.23" y="288.52" width="13.87" height="13.86" fill="#4438d0"/>
<rect x="132.6" y="288.52" width="13.87" height="13.86" fill="#4438d0"/>
<rect x="145.97" y="288.52" width="13.87" height="13.86" fill="#4438d0"/>
<rect x="159.34" y="288.52" width="13.87" height="13.86" fill="#4438d0"/>
<rect x="172.71" y="288.52" width="13.87" height="13.86" fill="#4640d8"/>
<rect x="186.08" y="288.52" width="13.87" height="13.86" fill="#4450e8"/>
<rect x="199.45" y="288.52" width="13.87" height="13.86" fill="#4058f0"/>
<rect x="212.82" y="288.52" width="13.87" height="13.86" fill="#3080f0"/>
<rect x="226.19" y="288.52" width="13.87" height="13.86" fill="#3080f0"/>
<rect x="239.56" y="288.52" width="13.87" height="13.86" fill="#64ca78"/>
<rect x="252.94" y="288.52" width="13.87" height="13.86" fill="#50c090"/>
<rect x="266.31" y="288.52" width="13.87" height="13.86" fill="#50c090"/>
<rect x="279.68" y="288.52" width="13.87" height="13.86" fill="#50c090"/>
<rect x="293.05" y="288.52" width="13.87" height="13.86" fill="#50c090"/>
<rect x="306.42" y="288.52" width="13.87" height="13.86" fill="#50c090"/>
<rect x="319.79" y="288.52" width="13.87" height="13.86" fill="#64ca78"/>
<rect x="333.16" y="288.52" width="13.87" height="13.86" fill="#64ca78"/>
<rect x="346.53" y="288.52" width="13.87" height="13.86" fill="#88c060"/>
<rect x="359.9" y="288.52" width="13.87" height="13.86" fill="#50c090"/>
<rect x="373.27" y="288.52" width="13.87" height="13.86" fill="#64ca78"/>
<rect x="386.65" y="288.52" width="13.87" height="13.86" fill="#50c090"/>
<rect x="400.02" y="288.52" width="13.87" height="13.86" fill="#50c090"/>
<rect x="413.39" y="288.52" width="13.87" height="13.86" fill="#64ca78"/>
<rect x="426.76" y="288.52" width="13.87" height="13.86" fill="#64ca78"/>
<rect x="440.13" y="288.52" width="13.87" height="13.86" fill="#64ca78"/>
<rect x="39" y="301.88" width="13.87" height="13.86" fill="#4648e2"/>
<rect x="52.37" y="301.88" width="13.87" height="13.86" fill="#4438d0"/>
<rect x="65.74" y="301.88" width="13.87" height="13.86" fill="#4438d0"/>
<rect x="79.11" y="301.88" width="13.87" height="13.86" fill="#4438d0"/>
<rect x="92.48" y="301.88" width="13.87" height="13.86" fill="#4438d0"/>
<rect x="105.85" y="301.88" width="13.87" height="13.86" fill="#4438d0"/>
<rect x="119.23" y="301.88" width="13.87" height="13.86" fill="#4438d0"/>
<rect x="132.6" y="301.88" width="13.87" height="13.86" fill="#4230c4"/>
<rect x="145.97" y="301.88" width="13.87" height="13.86" fill="#4438d0"/>
<rect x="159.34" y="301.88" width="13.87" height="13.86" fill="#4438d0"/>
<rect x="172.71" y="301.88" width="13.87" height="13.86" fill="#4230c4"/>
<rect x="186.08" y="301.88" width="13.87" height="13.86" fill="#4450e8"/>
<rect x="199.45" y="301.88" width="13.87" height="13.86" fill="#4058f0"/>
<rect x="212.82" y="301.88" width="13.87" height="13.86" fill="#28a0e8"/>
<rect x="226.19" y="301.88" width="13.87" height="13.86" fill="#28a0e8"/>
<rect x="239.56" y="301.88" width="13.87" height="13.86" fill="#50c090"/>
<rect x="252.94" y="301.88" width="13.87" height="13.86" fill="#50c090"/>
<rect x="266.31" y="301.88" width="13.87" height="13.86" fill="#50c090"/>
<rect x="279.68" y="301.88" width="13.87" height="13.86" fill="#50c090"/>
<rect x="293.05" y="301.88" width="13.87" height="13.86" fill="#50c090"/>
<rect x="306.42" y="301.88" width="13.87" height="13.86" fill="#40c0a0"/>
<rect x="319.79" y="301.88" width="13.87" height="13.86" fill="#50c090"/>
<rect x="333.16" y="301.88" width="13.87" height="13.86" fill="#50c090"/>
<rect x="346.53" y="301.88" width="13.87" height="13.86" fill="#40c0a0"/>
<rect x="359.9" y="301.88" width="13.87" height="13.86" fill="#50c090"/>
<rect x="373.27" y="301.88" width="13.87" height="13.86" fill="#30b8b0"/>
<rect x="386.65" y="301.88" width="13.87" height="13.86" fill="#50c090"/>
<rect x="400.02" y="301.88" width="13.87" height="13.86" fill="#50c090"/>
<rect x="413.39" y="301.88" width="13.87" height="13.86" fill="#64ca78"/>
<rect x="426.76" y="301.88" width="13.87" height="13.86" fill="#50c090"/>
<rect x="440.13" y="301.88" width="13.87" height="13.86" fill="#64ca78"/>
<rect x="39" y="315.24" width="13.87" height="13.86" fill="#4450e8"/>
<rect x="52.37" y="315.24" width="13.87" height="13.86" fill="#4230c4"/>
<rect x="65.74" y="315.24" width="13.87" height="13.86" fill="#4648e2"/>
<rect x="79.11" y="315.24" width="13.87" height="13.86" fill="#4640d8"/>
<rect x="92.48" y="315.24" width="13.87" height="13.86" fill="#4640d8"/>
<rect x="105.85" y="315.24" width="13.87" height="13.86" fill="#4640d8"/>
<rect x="119.23" y="315.24" width="13.87" height="13.86" fill="#4640d8"/>
<rect x="132.6" y="315.24" width="13.87" height="13.86" fill="#4640d8"/>
<rect x="145.97" y="315.24" width="13.87" height="13.86" fill="#4450e8"/>
<rect x="159.34" y="315.24" width="13.87" height="13.86" fill="#3c68f8"/>
<rect x="172.71" y="315.24" width="13.87" height="13.86" fill="#4648e2"/>
<rect x="186.08" y="315.24" width="13.87" height="13.86" fill="#3080f0"/>
<rect x="199.45" y="315.24" width="13.87" height="13.86" fill="#4450e8"/>
<rect x="212.82" y="315.24" width="13.87" height="13.86" fill="#20b0d0"/>
<rect x="226.19" y="315.24" width="13.87" height="13.86" fill="#20b0d0"/>
<rect x="239.56" y="315.24" width="13.87" height="13.86" fill="#78c068"/>
<rect x="252.94" y="315.24" width="13.87" height="13.86" fill="#78c068"/>
<rect x="266.31" y="315.24" width="13.87" height="13.86" fill="#78c068"/>
<rect x="279.68" y="315.24" width="13.87" height="13.86" fill="#64ca78"/>
<rect x="293.05" y="315.24" width="13.87" height="13.86" fill="#50c090"/>
<rect x="306.42" y="315.24" width="13.87" height="13.86" fill="#40c0a0"/>
<rect x="319.79" y="315.24" width="13.87" height="13.86" fill="#64ca78"/>
<rect x="333.16" y="315.24" width="13.87" height="13.86" fill="#78c068"/>
<rect x="346.53" y="315.24" width="13.87" height="13.86" fill="#40c0a0"/>
<rect x="359.9" y="315.24" width="13.87" height="13.86" fill="#64ca78"/>
<rect x="373.27" y="315.24" width="13.87" height="13.86" fill="#50c090"/>
<rect x="386.65" y="315.24" width="13.87" height="13.86" fill="#50c090"/>
<rect x="400.02" y="315.24" width="13.87" height="13.86" fill="#64ca78"/>
<rect x="413.39" y="315.24" width="13.87" height="13.86" fill="#64ca78"/>
<rect x="426.76" y="315.24" width="13.87" height="13.86" fill="#50c090"/>
<rect x="440.13" y="315.24" width="13.87" height="13.86" fill="#64ca78"/>
</g>
<rect x="39" y="195" width="414.5" height="133.6" fill="none" stroke="#6a7a6a" stroke-width="1"/>
<path d="M115.9 118.2C110.5 123 109.3 132 108.5 142C107.3 155 105.8 170 104.5 180C103.6 186 102.6 189 100.8 192" fill="none" stroke="#f01010" stroke-width="2.8" stroke-linecap="round"/>
<polygon points="96.4,199.4 97.1,190.3 104.5,195.2" fill="#f01010"/>
<line x1="89.75" y1="349.7" x2="89.75" y2="300" stroke="#f01010" stroke-width="2.7"/>
<polygon points="89.75,295.4 85.6,302.6 93.9,302.6" fill="#f01010"/>
<path d="M376.9 349.6C367 341 362.5 328 360.8 310S356.5 285 350 276.5" fill="none" stroke="#f01010" stroke-width="2.7" stroke-linecap="round"/>
<polygon points="344.1,270.5 352.8,271.2 347.8,278.2" fill="#f01010"/>
<rect x="15.5" y="515.6" width="456" height="30" fill="#fff" stroke="#c83c50" stroke-width="1.25"/>
<g font-family="Liberation Sans, sans-serif" font-size="13.6" font-weight="bold" fill="#c4101e" stroke="#c4101e" stroke-width="0.2">
<text x="100.4" y="532.0" textLength="92.3" lengthAdjust="spacingAndGlyphs">Window-Based</text>
<text x="197.9" y="532.0" textLength="40.3" lengthAdjust="spacingAndGlyphs">Energy</text>
<text x="242" y="532.0" textLength="55.2" lengthAdjust="spacingAndGlyphs">Selecting</text>
<text x="302.2" y="532.0" textLength="28.6" lengthAdjust="spacingAndGlyphs">X-ray</text>
<text x="336" y="532.0" textLength="48.2" lengthAdjust="spacingAndGlyphs">Imaging</text>
</g>
</svg></body></html>
